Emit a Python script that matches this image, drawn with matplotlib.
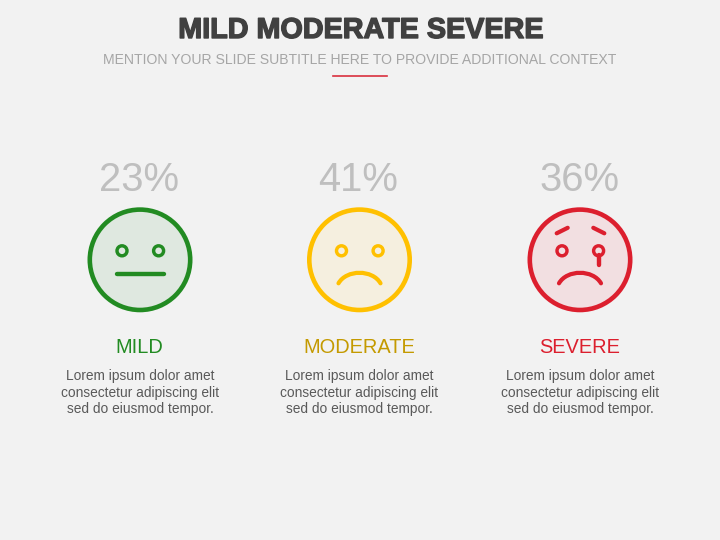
import matplotlib
matplotlib.use("Agg")
import matplotlib.patheffects as pe
import matplotlib.pyplot as plt
from matplotlib.patches import Circle, PathPatch
from matplotlib.path import Path

plt.rcParams["font.family"] = ["Liberation Sans", "DejaVu Sans"]

# values
labels = ["MILD", "MODERATE", "SEVERE"]
percents = [23, 41, 36]
moods = ["flat", "sad", "crying"]
body = "Lorem ipsum dolor amet\nconsectetur adipiscing elit\nsed do eiusmod tempor."
title = "MILD MODERATE SEVERE"
subtitle = "MENTION YOUR SLIDE SUBTITLE HERE TO PROVIDE ADDITIONAL CONTEXT"

# styling
centers = [140, 359.5, 580]
line_colors = ["#228b22", "#ffc000", "#dc1f2e"]
fill_colors = ["#dfe8e0", "#f5efdf", "#f2dfe1"]
label_colors = ["#228b22", "#c49a00", "#dc1f2e"]
BG = "#f2f2f2"
FACE_Y = 259.8


def draw_line(ax, xs, ys, color, lw=3.0):
    ax.plot(xs, ys, color=color, lw=lw * 0.72, solid_capstyle="round")


def draw_face(ax, cx, mood, color, fill):
    ax.add_patch(Circle((cx, FACE_Y), 50.2, fc=fill, ec=color, lw=4.6 * 0.72))
    # eyes
    for dx in (-18, 18.6):
        ax.add_patch(Circle((cx + dx, FACE_Y - 9), 5.0, fc="none", ec=color, lw=3.4 * 0.72))

    if mood == "flat":
        draw_line(ax, [cx - 23.5, cx + 23.5], [FACE_Y + 13.8, FACE_Y + 13.8], color, 4.4)
    else:
        # frown as a cubic curve
        verts = [(cx - 21, FACE_Y + 23.5), (cx - 13, FACE_Y + 9.5),
                 (cx + 13, FACE_Y + 9.5), (cx + 21, FACE_Y + 23.5)]
        codes = [Path.MOVETO, Path.CURVE4, Path.CURVE4, Path.CURVE4]
        ax.add_patch(PathPatch(Path(verts, codes), fc="none", ec=color,
                               lw=4.2 * 0.72, capstyle="round"))

    if mood == "crying":
        draw_line(ax, [cx - 23.3, cx - 12.3], [FACE_Y - 26.5, FACE_Y - 32], color, 4.2)
        draw_line(ax, [cx + 13.3, cx + 24.3], [FACE_Y - 32, FACE_Y - 26.5], color, 4.2)
        # tear
        draw_line(ax, [cx + 19, cx + 19], [FACE_Y - 5, FACE_Y + 5], color, 4.4)


fig = plt.figure(figsize=(7.2, 5.4), dpi=100, facecolor=BG)
# whole figure axes in pixel units, y pointing down
ax = fig.add_axes([0, 0, 1, 1])
ax.set_xlim(0, 720)
ax.set_ylim(540, 0)
ax.axis("off")

ax.text(360.5, 30, title, ha="center", va="center", fontsize=20.7, fontweight="bold",
        color="#404040", path_effects=[pe.withStroke(linewidth=1.0, foreground="#404040")])
ax.text(360, 59.5, subtitle, ha="center", va="center", fontsize=10.05, color="#a6a6a6")
ax.plot([333, 386.5], [75.5, 75.5], color="#d9303f", lw=1.2)

for i, name in enumerate(labels):
    cx = centers[i]
    ax.text(cx - 1, 180, f"{percents[i]}%", ha="center", va="center", fontsize=28.8, color="#bfbfbf")
    draw_face(ax, cx, moods[i], line_colors[i], fill_colors[i])
    ax.text(cx - 0.5, 347.5, name, ha="center", va="center", fontsize=14.4, color=label_colors[i])
    ax.text(cx, 392.5, body, ha="center", va="center", fontsize=9.95, color="#595959",
            linespacing=1.26)

fig.savefig("out.png", dpi=100, facecolor=BG)
